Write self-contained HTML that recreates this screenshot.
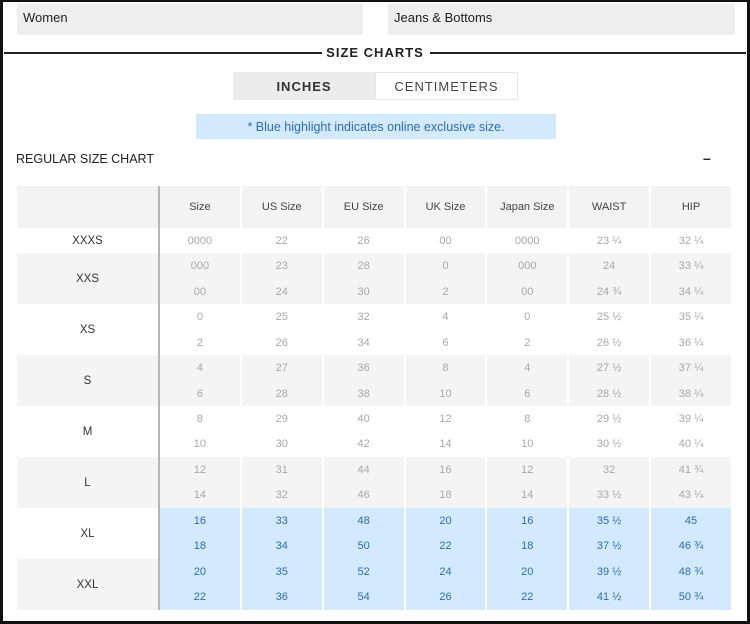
<!DOCTYPE html>
<html><head><meta charset="utf-8"><style>
*{margin:0;padding:0;box-sizing:border-box}
html,body{width:750px;height:624px;overflow:hidden;background:#fff}
body{position:relative;font-family:"Liberation Sans",Arial,sans-serif;}
.frame{position:absolute;left:0;top:0;width:750px;height:624px;border:3px solid #111;border-top-width:2px;pointer-events:none;z-index:5}
.dd{position:absolute;top:4px;height:31px;background:#eeeeee;font-size:13px;color:#222;padding:6px 0 0 6px}
.hr{position:absolute;top:52px;height:2px;background:#222}
.title{position:absolute;top:45px;left:0;width:750px;text-align:center;font-size:13px;font-weight:bold;letter-spacing:1px;color:#222}
.tg{position:absolute;top:72px;height:28px;font-size:13px;letter-spacing:1px;text-align:center;padding-top:7px}
.note{position:absolute;left:196px;top:114px;width:360px;height:25px;background:#d3e9fd;color:#2a6db3;font-size:12.5px;text-align:center;padding-top:6px}
.reg{position:absolute;left:16px;top:152px;font-size:12.5px;color:#222}
.minus{position:absolute;left:703px;top:150px;font-size:14px;font-weight:bold;color:#222}
table{position:absolute;left:17px;top:186px;width:716px;border-collapse:separate;border-spacing:0;table-layout:fixed;font-size:11px}
td{text-align:center;vertical-align:middle;color:#a8a8a8;height:25.47px;border-right:2px solid #fff}
td.l{color:#333;border-right:2px solid #b5b5b5;font-size:11.5px}
tr.h td{height:42px;background:#f3f3f3;color:#444;font-size:11px}
.g td{background:#f4f4f4}
.w td{background:#fff}
.b td{background:#d3e9fd;color:#2a6db3}
.b td.l{background:#fff;color:#333}
.b2 td.l{background:#f4f4f4;color:#333}
</style></head><body>
<div class="frame"></div>
<div class="dd" style="left:17px;width:346px">Women</div>
<div class="dd" style="left:388px;width:347px">Jeans &amp; Bottoms</div>
<div class="hr" style="left:4px;width:318px"></div>
<div class="hr" style="left:430px;width:316px"></div>
<div class="title">SIZE CHARTS</div>
<div class="tg" style="left:233px;width:142px;background:#ececec;font-weight:bold;color:#333">INCHES</div>
<div class="tg" style="left:375px;width:143px;border:1px solid #e6e6e6;color:#444;padding-top:6px">CENTIMETERS</div>
<div class="note">* Blue highlight indicates online exclusive size.</div>
<div class="reg">REGULAR SIZE CHART</div>
<div class="minus">–</div>
<table>
<colgroup><col style="width:143px"><col><col><col><col><col><col><col></colgroup>
<tr class="h"><td class="l"></td><td>Size</td><td>US Size</td><td>EU Size</td><td>UK Size</td><td>Japan Size</td><td>WAIST</td><td>HIP</td></tr>
<tr class="w"><td class="l">XXXS</td><td>0000</td><td>22</td><td>26</td><td>00</td><td>0000</td><td>23 ¼</td><td>32 ¼</td></tr>
<tr class="g"><td class="l" rowspan="2">XXS</td><td>000</td><td>23</td><td>28</td><td>0</td><td>000</td><td>24</td><td>33 ¼</td></tr>
<tr class="g"><td>00</td><td>24</td><td>30</td><td>2</td><td>00</td><td>24 ¾</td><td>34 ¼</td></tr>
<tr class="w"><td class="l" rowspan="2">XS</td><td>0</td><td>25</td><td>32</td><td>4</td><td>0</td><td>25 ½</td><td>35 ¼</td></tr>
<tr class="w"><td>2</td><td>26</td><td>34</td><td>6</td><td>2</td><td>26 ½</td><td>36 ¼</td></tr>
<tr class="g"><td class="l" rowspan="2">S</td><td>4</td><td>27</td><td>36</td><td>8</td><td>4</td><td>27 ½</td><td>37 ¼</td></tr>
<tr class="g"><td>6</td><td>28</td><td>38</td><td>10</td><td>6</td><td>28 ½</td><td>38 ¼</td></tr>
<tr class="w"><td class="l" rowspan="2">M</td><td>8</td><td>29</td><td>40</td><td>12</td><td>8</td><td>29 ½</td><td>39 ¼</td></tr>
<tr class="w"><td>10</td><td>30</td><td>42</td><td>14</td><td>10</td><td>30 ½</td><td>40 ¼</td></tr>
<tr class="g"><td class="l" rowspan="2">L</td><td>12</td><td>31</td><td>44</td><td>16</td><td>12</td><td>32</td><td>41 ¾</td></tr>
<tr class="g"><td>14</td><td>32</td><td>46</td><td>18</td><td>14</td><td>33 ½</td><td>43 ¼</td></tr>
<tr class="b"><td class="l" rowspan="2">XL</td><td>16</td><td>33</td><td>48</td><td>20</td><td>16</td><td>35 ½</td><td>45</td></tr>
<tr class="b"><td>18</td><td>34</td><td>50</td><td>22</td><td>18</td><td>37 ½</td><td>46 ¾</td></tr>
<tr class="b b2"><td class="l" rowspan="2">XXL</td><td>20</td><td>35</td><td>52</td><td>24</td><td>20</td><td>39 ½</td><td>48 ¾</td></tr>
<tr class="b b2"><td>22</td><td>36</td><td>54</td><td>26</td><td>22</td><td>41 ½</td><td>50 ¾</td></tr>
</table>
</body></html>
